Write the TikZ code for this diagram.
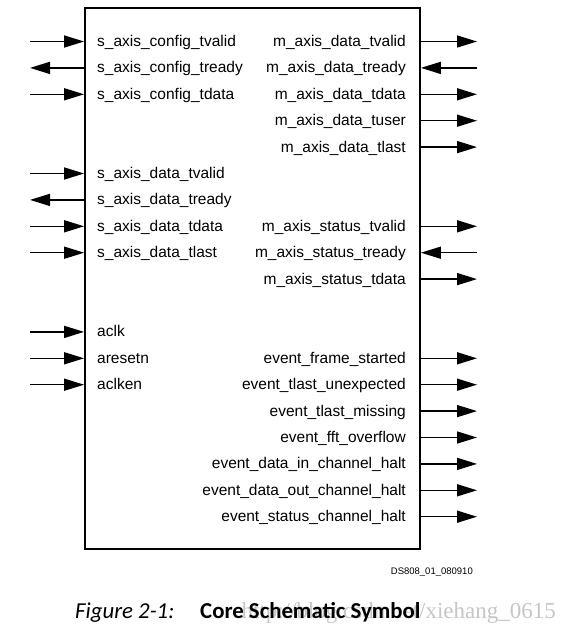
\documentclass[tikz,border=0pt]{standalone}
\usepackage{fontspec}
\setmainfont{Liberation Sans}
\newfontfamily\capfont{Carlito}
\newfontfamily\wmfont{Liberation Serif}
\usetikzlibrary{arrows.meta,positioning}

\begin{document}
\begin{tikzpicture}[x=1pt,y=-1pt,
    block/.style={draw,line width=1.8pt,minimum width=335pt,minimum height=541pt,
                  inner sep=0pt},
    port/.style={font=\fontsize{15.5}{18}\selectfont,inner sep=0pt},
    sigend/.style={-{Triangle[length=20pt,width=12pt]},line width=1.5pt},
    sigstart/.style={{Triangle[length=20pt,width=12pt]}-,line width=1.5pt},
    code/.style={font=\fontsize{9.5}{11}\selectfont,inner sep=0pt},
    figcap/.style={font=\capfont\fontsize{22.8}{26}\selectfont,inner sep=0pt},
]
\useasboundingbox (0,0) rectangle (567,632);

% ---- Core block ----------------------------------------------------------
\node[block] (blk) at (252.5,278.5) {};

% ---- Slave side (left) ---------------------------------------------------
\foreach \r/\txt/\dir in {0/s\_axis\_config\_tvalid/sigend,
    1/s\_axis\_config\_tready/sigstart, 2/s\_axis\_config\_tdata/sigend,
    5/s\_axis\_data\_tvalid/sigend, 6/s\_axis\_data\_tready/sigstart,
    7/s\_axis\_data\_tdata/sigend, 8/s\_axis\_data\_tlast/sigend,
    11/aclk/sigend, 12/aresetn/sigend, 13/aclken/sigend}{
  \node[port,anchor=base west] (lp\r) at (97,{46.5+26.4*\r}) {\txt};
  \coordinate (lp\r-end) at (30,{41.5+26.4*\r});
  \draw[\dir] (lp\r-end) -- (blk.west|-lp\r-end);
}

% ---- Master side (right) -------------------------------------------------
\foreach \r/\txt/\dir in {0/m\_axis\_data\_tvalid/sigend,
    1/m\_axis\_data\_tready/sigstart, 2/m\_axis\_data\_tdata/sigend,
    3/m\_axis\_data\_tuser/sigend, 4/m\_axis\_data\_tlast/sigend,
    7/m\_axis\_status\_tvalid/sigend, 8/m\_axis\_status\_tready/sigstart,
    9/m\_axis\_status\_tdata/sigend,
    12/event\_frame\_started/sigend, 13/event\_tlast\_unexpected/sigend,
    14/event\_tlast\_missing/sigend, 15/event\_fft\_overflow/sigend,
    16/event\_data\_in\_channel\_halt/sigend,
    17/event\_data\_out\_channel\_halt/sigend,
    18/event\_status\_channel\_halt/sigend}{
  \node[port,anchor=base east] (rp\r) at (406,{46.5+26.4*\r}) {\txt};
  \coordinate (rp\r-end) at (477,{41.5+26.4*\r});
  \draw[\dir] (blk.east|-rp\r-end) -- (rp\r-end);
}

% ---- Drawing code and caption --------------------------------------------
\node[code,anchor=mid east] (dwg) at (473,572) {DS808\_01\_080910};
\node[font=\wmfont\fontsize{23}{26}\selectfont,text=gray!45,inner sep=0pt,
      anchor=base east] (wmark) at (556,618) {http://blog.csdn.net/xiehang\_0615};
\node[figcap,anchor=base west] (fig) at (75,618) {\itshape Figure 2-1:};
\node[figcap,anchor=base west] (title) at (200,618) {\bfseries Core Schematic Symbol};

\end{tikzpicture}
\end{document}
